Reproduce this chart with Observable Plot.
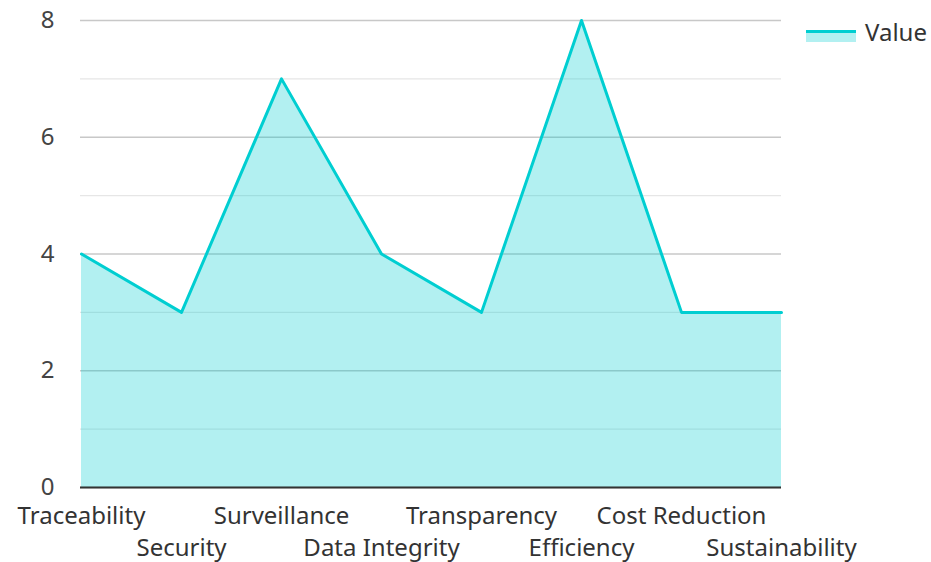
<!DOCTYPE html>
<html>
<head>
<meta charset="utf-8">
<script src="https://cdn.jsdelivr.net/npm/d3@7"></script>
<script src="https://cdn.jsdelivr.net/npm/@observablehq/plot@0.6"></script>
<style>
  html, body { margin: 0; padding: 0; background: #fff; }
  #wrap { position: relative; width: 931px; height: 562px; font-family: "Noto Sans", sans-serif; }
  #legend { position: absolute; left: 806px; top: 15px; display: flex; align-items: center; font-size: 24px; color: #333; }
  #legend .sw { position: relative; width: 50px; height: 14px; margin-right: 9px; }
  #legend .sw .f { position: absolute; left: 0; top: 7px; width: 50px; height: 10px; background: #00CED1; opacity: 0.3; }
  #legend .sw .l { position: absolute; left: 0; top: 5px; width: 50px; height: 3px; background: #00CED1; }
</style>
</head>
<body>
<div id="wrap">
  <div id="chart"></div>
  <div id="legend"><div class="sw"><div class="f"></div><div class="l"></div></div><span>Value</span></div>
</div>
<script>
const categories = ["Traceability", "Security", "Surveillance", "Data Integrity", "Transparency", "Efficiency", "Cost Reduction", "Sustainability"];
const values = [4, 3, 7, 4, 3, 8, 3, 3];
const majorTicks = [0, 2, 4, 6, 8];
const minorTicks = [1, 3, 5, 7];

const data = categories.map((c, i) => ({category: c, value: values[i]}));
const evenCats = categories.filter((_, i) => i % 2 === 0);
const oddCats = categories.filter((_, i) => i % 2 === 1);

const chart = Plot.plot({
  width: 931,
  height: 562,
  marginLeft: 80,
  marginRight: 150,
  marginTop: 20,
  marginBottom: 75,
  style: {fontFamily: "Noto Sans, sans-serif", fontSize: "24px", color: "#444", background: "#fff"},
  x: {type: "point", domain: categories, padding: 0},
  y: {domain: [0, 8]},
  marks: [
    Plot.gridY(minorTicks, {stroke: "#e6e6e6", strokeOpacity: 1, strokeWidth: 1.3}),
    Plot.gridY(majorTicks, {stroke: "#c8c8c8", strokeOpacity: 1, strokeWidth: 1.3}),
    Plot.areaY(data, {x: "category", y: "value", fill: "#00CED1", fillOpacity: 0.3}),
    Plot.lineY(data, {x: "category", y: "value", stroke: "#00CED1", strokeWidth: 3}),
    Plot.ruleY([0], {stroke: "#333", strokeWidth: 2}),
    Plot.axisY(majorTicks, {tickSize: 0, tickPadding: 26, fill: "#444", textAnchor: "end", tickFormat: d3.format("d"), label: null}),
    Plot.axisX(evenCats, {tickSize: 0, tickPadding: 19, fill: "#333", label: null}),
    Plot.axisX(oddCats, {tickSize: 0, tickPadding: 51, fill: "#333", label: null})
  ]
});
document.getElementById("chart").appendChild(chart);
</script>
</body>
</html>
